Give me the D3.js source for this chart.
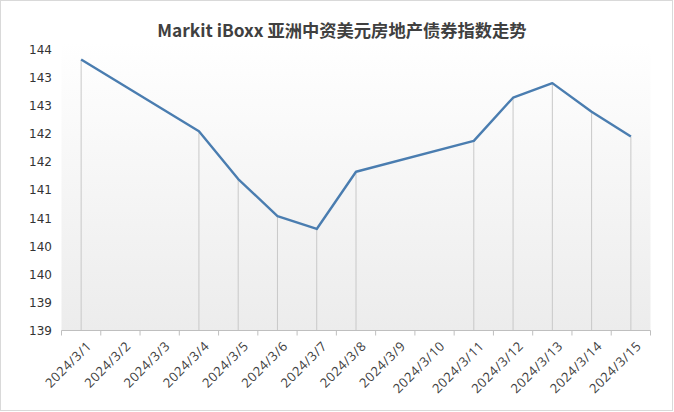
<!DOCTYPE html>
<html><head><meta charset="utf-8">
<script src="https://cdn.jsdelivr.net/npm/d3@7"></script>
<style>body{margin:0;background:#fff}svg{display:block}</style>
</head><body>
<svg id="c" width="674" height="412"></svg>
<script>
const categories = ["2024/3/1","2024/3/2","2024/3/3","2024/3/4","2024/3/5","2024/3/6","2024/3/7","2024/3/8","2024/3/9","2024/3/10","2024/3/11","2024/3/12","2024/3/13","2024/3/14","2024/3/15"];
const values = [143.63,null,null,142.35,141.50,140.84,140.61,141.63,null,null,142.18,142.95,143.21,142.70,142.26];
const tickValues = [138.8,139.3,139.8,140.3,140.8,141.3,141.8,142.3,142.8,143.3,143.8];
const tickLabels = ["139","139","140","140","141","141","142","142","143","143","144"];
const title = "Markit iBoxx 亚洲中资美元房地产债券指数走势";

const svg = d3.select("#c");
const W = 674, H = 412;
const mLeft = 61.5, mRight = 650.5, mTop = 50, mBottom = 330.5;

svg.append("rect").attr("x",0.5).attr("y",0.5).attr("width",W-2).attr("height",H-2)
  .attr("fill","#fff").attr("stroke","#d9d9d9");

const defs = svg.append("defs");
const g = defs.append("linearGradient").attr("id","bg").attr("x1",0).attr("y1",0).attr("x2",0).attr("y2",1);
g.append("stop").attr("offset","0%").attr("stop-color","#ffffff");
g.append("stop").attr("offset","100%").attr("stop-color","#ececec");

svg.append("rect").attr("x",mLeft).attr("y",42).attr("width",mRight-mLeft).attr("height",mBottom-42)
  .attr("fill","url(#bg)");

const x = d3.scaleBand().domain(categories).range([mLeft,mRight]);
const y = d3.scaleLinear().domain([138.8,143.8]).range([mBottom,mTop]);

// drop lines
const pts = categories.map((c,i)=>({c, v: values[i]})).filter(d=>d.v!=null);
svg.append("g").selectAll("line").data(pts).join("line")
  .attr("x1",d=>x(d.c)+x.bandwidth()/2).attr("x2",d=>x(d.c)+x.bandwidth()/2)
  .attr("y1",d=>y(d.v)).attr("y2",mBottom)
  .attr("stroke","#c8c8c8").attr("stroke-width",1);

// x axis
const xa = svg.append("g").attr("transform",`translate(0,${mBottom})`);
xa.append("line").attr("x1",mLeft).attr("x2",mRight).attr("stroke","#bfbfbf");
const tickPos = d3.range(categories.length+1).map(i=>mLeft+i*x.step());
xa.selectAll("line.t").data(tickPos).join("line").attr("class","t")
  .attr("x1",d=>d).attr("x2",d=>d).attr("y1",0).attr("y2",5).attr("stroke","#bfbfbf");
xa.selectAll("text").data(categories).join("text")
  .attr("transform",d=>`translate(${x(d)+x.bandwidth()/2+8},${13}) rotate(-45)`)
  .attr("text-anchor","end").attr("dy","0.35em")
  .attr("font-family","'Open Sans','Noto Sans',sans-serif").attr("font-size",13)
  .attr("letter-spacing","0.6px")
  .attr("fill","#404040").text(d=>d);

// y axis labels
svg.append("g").selectAll("text").data(tickValues).join("text")
  .attr("x",52).attr("y",d=>y(d)).attr("dy","0.35em").attr("text-anchor","end")
  .attr("font-family","'DejaVu Sans',sans-serif").attr("font-size",12)
  .attr("fill","#333").text((d,i)=>tickLabels[i]);

// line
const line = d3.line().defined(d=>d.v!=null)
  .x(d=>x(d.c)+x.bandwidth()/2).y(d=>y(d.v));
svg.append("path").datum(pts).attr("d",line)
  .attr("fill","none").attr("stroke","#4a7db0").attr("stroke-width",2.4)
  .attr("stroke-linejoin","round");

// title
svg.append("text").attr("x",342).attr("y",37).attr("text-anchor","middle")
  .attr("font-family","'Noto Sans CJK SC','Open Sans',sans-serif").attr("font-weight","bold")
  .attr("font-size",17.3).attr("fill","#404040").text(title);
</script>
</body></html>
